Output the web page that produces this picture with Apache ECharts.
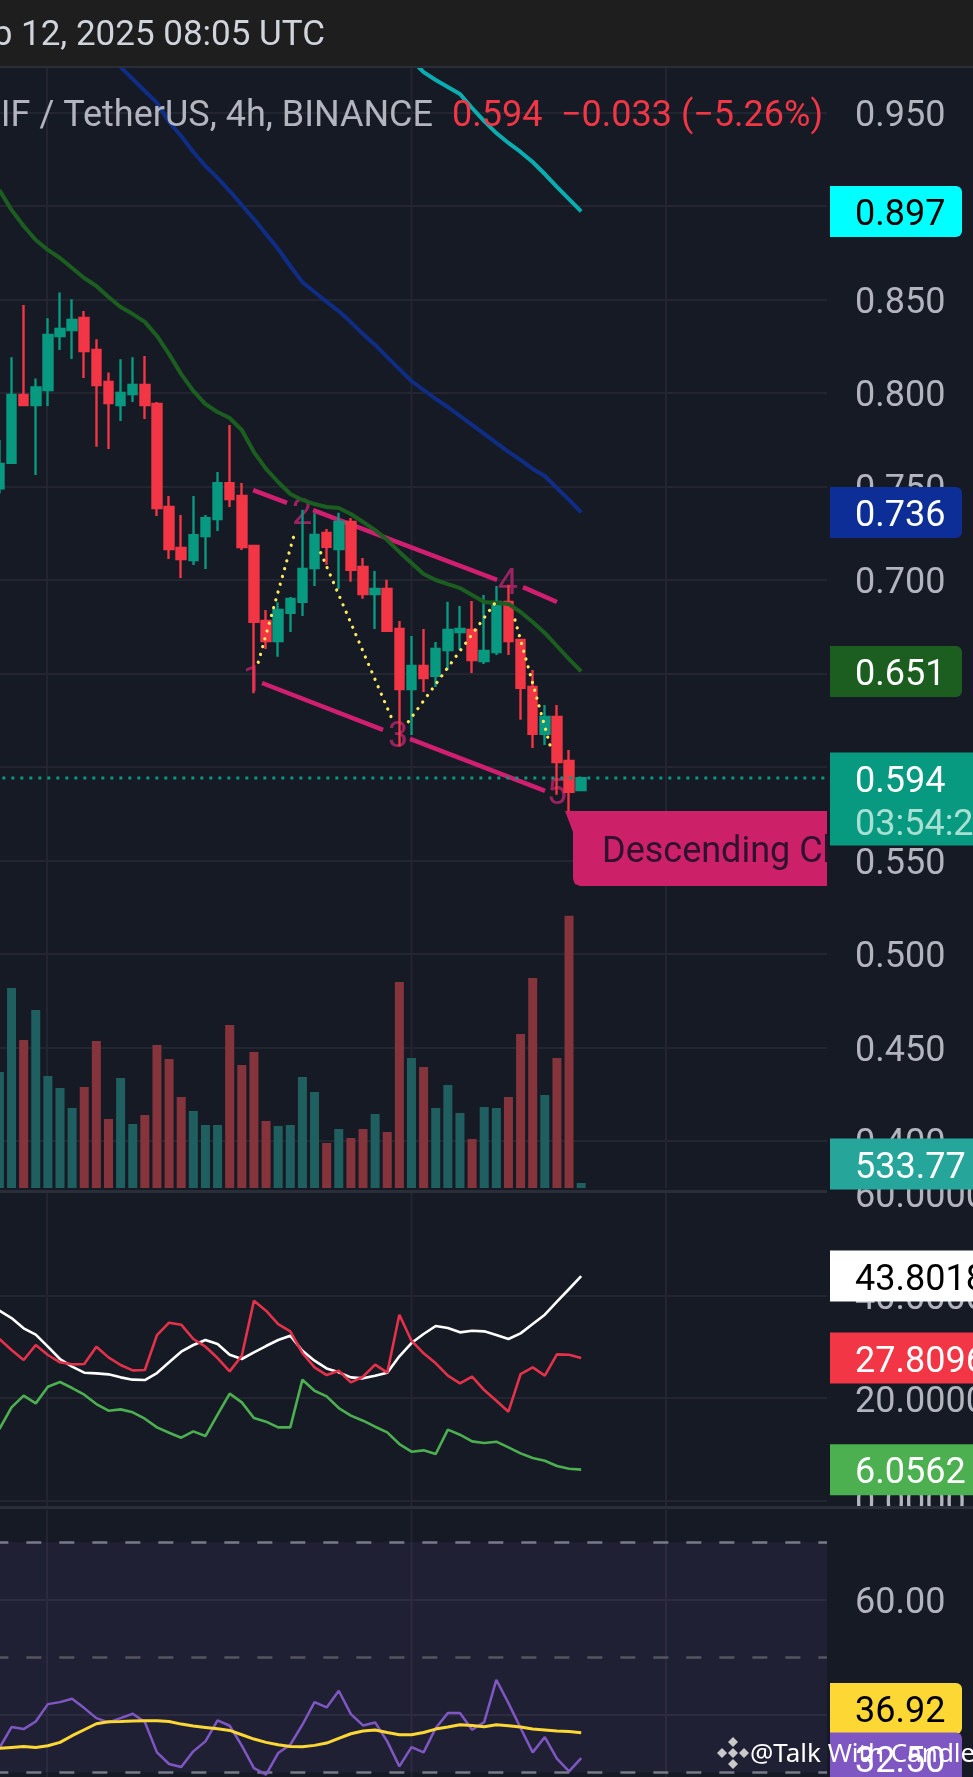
<!DOCTYPE html>
<html><head><meta charset="utf-8">
<style>html,body{margin:0;padding:0;background:#161a25;overflow:hidden}#c{width:973px;height:1777px}</style>
<script src="https://cdn.jsdelivr.net/npm/echarts@6/dist/echarts.min.js"></script>
</head><body><div id="c"></div>
<script>
// [open, close, low, high]
const candles = [
[.7489,.7619,.7462,.7747],[.7626,.7988,.7626,.8190],[.7988,.7935,.7929,.8469],[.7935,.8029,.7560,.8077],
[.8015,.8309,.7929,.8398],[.8304,.8341,.8229,.8537],[.8336,.8389,.8181,.8500],[.8400,.8223,.8079,.8437],
[.8229,.8042,.7712,.8286],[.8058,.7945,.7699,.8109],[.7935,.7999,.7849,.8179],[.7993,.8042,.7951,.8190],
[.8042,.7935,.7860,.8197],[.7940,.7384,.7341,.7951],[.7389,.7165,.7111,.7448],[.7170,.7111,.7009,.7346],
[.7106,.7239,.7079,.7448],[.7234,.7330,.7058,.7346],[.7325,.7517,.7261,.7576],[.7517,.7432,.7389,.7828],
[.7448,.7175,.7159,.7517],[.7181,.6775,.6393,.7181],[.6780,.6673,.6630,.6839],[.6673,.6839,.6588,.6880],
[.6823,.6898,.6721,.6908],[.6882,.7058,.6807,.7374],[.7063,.7240,.6967,.7356],[.7251,.7176,.7080,.7272],
[.7165,.7309,.6951,.7358],[.7309,.7053,.6989,.7331],[.7069,.6924,.6898,.7117],[.6924,.6951,.6737,.7047],
[.6951,.6727,.6721,.7000],[.6737,.6416,.6108,.6780],[.6416,.6539,.6170,.6700],[.6539,.6475,.6400,.6737],
[.6486,.6630,.6427,.6668],[.6625,.6732,.6518,.6882],[.6721,.6737,.6625,.6860],[.6732,.6571,.6502,.6887],
[.6566,.6620,.6550,.6919],[.6614,.6882,.6598,.6967],[.6882,.6673,.6598,.6973],[.6678,.6422,.6251,.6678],
[.6427,.6176,.6101,.6518],[.6176,.6267,.6117,.6331],[.6267,.6026,.5850,.6331],[.6031,.5866,.5760,.6090],
[.5876,.5939,.5876,.5944]];
const volumes = [12389,21360,15806,19010,11962,10680,8544,10787,15700,7369,11748,6835,7796,15272,13777,9719,8224,6728,6728,17408,13136,14525,7156,6622,6728,11855,10253,4806,6301,5340,6301,7903,5981,22001,13884,12923,8544,11000,8010,5233,8651,8544,9719,16447,22428,9932,13884,29050,533.77];
const maGreen = [.9084,.8978,.8892,.8817,.8764,.8721,.8667,.8614,.8571,.8512,.8459,.8421,.8379,.8304,.8207,.8100,.8010,.7940,.7897,.7865,.7801,.7683,.7593,.7523,.7459,.7427,.7405,.7389,.7384,.7352,.7309,.7266,.7213,.7149,.7090,.7031,.6999,.6977,.6956,.6919,.6881,.6876,.6871,.6828,.6774,.6716,.6646,.6576,.651];
const maNavy = [null,null,null,null,null,null,null,null,null,null,.9742,.9678,.9614,.9550,.9448,.9373,.9288,.9213,.9149,.9079,.9004,.8929,.8849,.8769,.8678,.8592,.8539,.8486,.8437,.8378,.8314,.8256,.8191,.8127,.8063,.8015,.7967,.7924,.7876,.7828,.7780,.7732,.7684,.7641,.7593,.7555,.7491,.7427,.736];
const maTeal = [null,null,null,null,null,null,null,null,null,null,null,null,null,null,null,null,null,null,null,null,null,null,null,null,null,null,null,null,null,null,null,null,null,null,.9780,.9715,.9673,.9635,.9598,.9523,.9453,.9389,.9336,.9288,.9234,.9170,.9101,.9036,.897];
const dmiWhite = [37.05,35.62,33.61,32.37,30.03,27.63,26.13,24.96,24.83,24.64,24.05,23.6,23.53,24.9,26.98,29.06,30.36,31.33,30.55,28.47,27.63,28.93,30.16,31.33,32.18,29.25,27.3,25.8,25.03,24.05,23.86,24.38,24.96,28.15,30.75,32.5,34.06,33.67,32.83,33.15,33.02,32.3,31.53,32.63,34.45,36.27,38.81,41.28,43.8018];
const dmiRed = [31.53,29.38,27.43,30.36,28.41,26.98,26.59,26.65,30.03,27.95,26.46,25.42,25.48,32.3,34.71,34.32,31.53,30.03,27.82,25.22,28.28,39.0,37.05,34.45,33.02,28.8,26.0,24.5,25.35,23.08,24.18,26.52,24.96,36.27,31.2,28.73,26.78,24.38,22.88,24.18,21.58,19.5,17.36,24.7,26.0,24.38,28.54,28.47,27.8096];
const dmiGreen = [13.98,18.2,20.48,18.98,22.23,23.14,21.97,20.67,18.85,17.55,17.81,17.23,15.99,14.3,13.26,12.29,13.52,12.61,16.77,20.87,19.18,16.12,15.41,14.3,14.3,23.6,21.45,20.35,18.07,16.58,15.6,14.43,13.33,11.05,9.56,9.82,9.1,13.85,12.87,11.57,11.25,11.51,10.4,9.23,8.32,7.8,6.76,6.24,6.0562];
const rsi = [34.24,37.89,37.54,38.87,41.88,42.23,42.81,41.19,39.45,38.7,39.45,40.21,38.76,33.49,31.47,30.94,33.67,35.4,39.05,38.12,34.65,30.77,29.62,33.38,34.82,38.3,42.23,41.3,44.2,40.15,38.18,38.7,35.4,31.06,34.42,33.49,37.72,40.32,40.32,37.43,38.76,46.11,42.06,37.72,33.49,36.15,32.39,30.19,32.5];
const rsiMa = [34.19,34.36,34.53,34.36,34.65,35.23,36.39,37.43,38.47,38.82,38.87,38.93,38.99,38.99,38.87,38.41,38.06,37.83,37.6,37.31,36.56,35.81,35.23,34.82,34.53,34.48,34.71,35.11,35.92,36.73,37.2,37.37,36.96,36.56,36.56,36.96,37.54,37.89,38.3,38.18,37.95,38.3,38.12,37.89,37.54,37.37,37.2,37.14,36.92];
// annotation drawing: [slot position, price]
const channelTop = [[20.93,.7480],[23.73,.7411],[null,null],[25.88,.7373],[41.06,.7000],[null,null],[43.2,.6961],[46.0,.6881]];
const channelBottom = [[21.67,.6448],[31.65,.6197],[null,null],[33.88,.6149],[45.02,.5871]];
const wave = [[21.36,.6559],[24.39,.7257],[null,null],[26.51,.7145],[32.37,.6259],[null,null],[33.74,.6241],[41.17,.6901],[null,null],[42.54,.6785],[45.57,.6083]];
const waveLabels = [['1',20.93,.6453],['2',24.97,.7347],['3',32.89,.6154],['4',41.96,.6972],['5',46.0,.5849]];
const lastPriceLine = [[-0.5,.594],[68.5,.594]];
const verticalSlots = [3.93,34,55];
const slots = Array.from({length:69},(_,i)=>String(i));

const UP='#089981',DOWN='#f23645',BG='#161a25',GRID='#232631',AXT='#b2b5be';
const F='Roboto, sans-serif';
const L=-6.66,W=836.3;
const G={left:L,width:W,outerBoundsMode:'none',containLabel:false};
const grids=[{...G,top:68,height:1072.8},{...G,top:68,height:1120},{...G,top:1193,height:307.7},{...G,top:1510,height:320}];
const xAxes=[];
grids.forEach((g,i)=>{
  xAxes.push({type:'category',gridIndex:i,data:slots,show:false,boundaryGap:true});
  xAxes.push({type:'value',gridIndex:i,min:-0.5,max:68.5,show:false,splitLine:{show:false}});
});
const lab=(dec)=>({margin:25.4,showMaxLabel:false,formatter:v=>'{t|'+v.toFixed(dec)+'}',
  rich:{t:{color:AXT,fontFamily:F,fontSize:36,padding:[9,0,0,0]}}});
const yAxes=[
 {type:'value',gridIndex:0,position:'right',min:.4,max:.97369,interval:.05,axisLine:{show:false},axisTick:{show:false},
  axisLabel:lab(3),splitLine:{lineStyle:{color:GRID,width:2},showMaxLine:false}},
 {type:'value',gridIndex:1,min:0,max:119560,show:false,splitLine:{show:false}},
 {type:'value',gridIndex:2,position:'right',min:0,max:60,interval:20,axisLine:{show:false},axisTick:{show:false},
  axisLabel:{...lab(4),showMaxLabel:true},splitLine:{lineStyle:{color:GRID,width:2},showMaxLine:false}},
 {type:'value',gridIndex:3,position:'right',min:20,max:75.625,interval:20,axisLine:{show:false},axisTick:{show:false},
  axisLabel:lab(2),splitLine:{lineStyle:{color:GRID,width:2},showMaxLine:false}}
];
const vert=(lo,hi)=>{const d=[];verticalSlots.forEach(k=>{d.push([k,lo],[k,hi],[k,null]);});return d;};
const helper=(xi,yi,lo,hi)=>({type:'line',xAxisIndex:xi,yAxisIndex:yi,data:vert(lo,hi),showSymbol:false,silent:true,clip:false,z:0,lineStyle:{color:GRID,width:2},connectNulls:false});
const line=(xi,yi,data,color,width,z)=>({type:'line',xAxisIndex:xi,yAxisIndex:yi,data,showSymbol:false,silent:true,z:z||4,lineStyle:{color,width},connectNulls:false});
const ov=(data,color,width,type,z)=>({type:'line',xAxisIndex:1,yAxisIndex:0,data,showSymbol:false,silent:true,z:z||(type?6:2),connectNulls:false,lineStyle:{color,width,type:type||'solid',cap:type?'round':'butt'}});

const rsiSeries=line(6,3,rsi,'#7e57c2',2.5,4);
rsiSeries.markArea={silent:true,z:1,itemStyle:{color:'rgba(126,87,194,0.1)'},data:[[{yAxis:70},{yAxis:30}]]};
rsiSeries.markLine={silent:true,z:2,symbol:'none',label:{show:false},data:[
 {yAxis:70,lineStyle:{color:'#787b86',type:[15,18],width:2.5}},
 {yAxis:50,lineStyle:{color:'#54555f',type:[15,18],width:2.5}},
 {yAxis:30,lineStyle:{color:'#787b86',type:[15,18],width:2.5}}]};

const lastLine=ov(lastPriceLine,UP,3,[3,6],6);
lastLine.lineStyle.cap='butt';

const option={animation:false,backgroundColor:BG,grid:grids,xAxis:xAxes,yAxis:yAxes,series:[
 helper(3,1,0,120500),helper(5,2,-1.2,60),helper(7,3,20,75.625),
 {type:'bar',xAxisIndex:2,yAxisIndex:1,barWidth:9,silent:true,z:1,
  data:volumes.map((v,i)=>({value:v,itemStyle:{color:candles[i][1]>=candles[i][0]?'#205f5f':'#85343c'}}))},
 ov(channelTop,'#d01f70',4.5),ov(channelBottom,'#d01f70',4.5),
 {type:'scatter',xAxisIndex:1,yAxisIndex:0,symbolSize:1,itemStyle:{color:'transparent'},silent:true,z:3,
  data:waveLabels.map(r=>[r[1],r[2]]),
  label:{show:true,position:'inside',formatter:p=>waveLabels[p.dataIndex][0],color:'#bd2470',fontFamily:F,fontSize:36}},
 line(0,0,maTeal,'#0aaeb0',4,4),line(0,0,maNavy,'#0f2d85',4,4),
 {type:'candlestick',xAxisIndex:0,yAxisIndex:0,barWidth:9,silent:true,z:5,data:candles,
  itemStyle:{color:UP,color0:DOWN,borderColor:UP,borderColor0:DOWN,borderWidth:2.4}},
 lastLine,
 line(0,0,maGreen,'#1b5e20',4,5.5),
 ov(wave,'#ffeb5c',3.2,[0.1,8]),
 line(4,2,dmiWhite,'#ffffff',2.6),line(4,2,dmiRed,'#e5324a',2.6),line(4,2,dmiGreen,'#4caf50',2.6),
 rsiSeries,line(6,3,rsiMa,'#fdd835',3,5)
]};
const chart=echarts.init(document.getElementById('c'),null,{renderer:'canvas',width:973,height:1777});
chart.setOption(option);

const py=(axis,v)=>chart.convertToPixel({yAxisIndex:axis},v);
const DY=4.5;
const tag=(cy,text,fill,color,full)=>[
 {type:'rect',z:20,shape:{x:830,y:cy-25.5,width:full?143:132,height:51,r:full?0:[0,6,6,0]},style:{fill}},
 {type:'text',z:21,style:{x:855,y:cy+DY,text,fill:color,font:'36px '+F,textAlign:'left',textVerticalAlign:'middle',verticalAlign:'middle'}}
];
const txt=(x,y,text,fill,size,align,family,z)=>({type:'text',z:z||30,style:{x,y,text,fill,font:(size||36)+'px '+(family||F),textAlign:align||'left',textVerticalAlign:'middle',verticalAlign:'middle'}});
const diamond=(cx,cy,r,fill)=>({type:'polygon',z:30,shape:{points:[[cx-r,cy],[cx,cy-r],[cx+r,cy],[cx,cy+r]]},style:{fill}});
const yLast=py(0,.594);
const g=[
 {type:'rect',z:6.5,shape:{x:827,y:68,width:3,height:1440},style:{fill:BG}},
 {type:'rect',z:6.5,shape:{x:827,y:1508,width:3,height:269},style:{fill:BG}},
 {type:'rect',z:1,shape:{x:830,y:1507,width:143,height:40},style:{fill:BG}},
 {type:'rect',z:8,shape:{x:0,y:1190,width:827,height:3},style:{fill:'#2a2e39'}},
 {type:'rect',z:8,shape:{x:0,y:1506,width:973,height:3},style:{fill:'#2a2e39'}},
 {type:'rect',z:15,shape:{x:0,y:0,width:973,height:66},style:{fill:'#1e1e1e'}},
 {type:'rect',z:15,shape:{x:0,y:66,width:973,height:2},style:{fill:'#2a2e39'}},
 txt(325,33+DY-1,'Feb 12, 2025 08:05 UTC','#d1d4dc',35,'right',null,16),
 txt(433,112+DY,'WIF / TetherUS, 4h, BINANCE',AXT,36,'right',null,16),
 txt(452,112+DY,'0.594',DOWN,36,'left',null,16),
 txt(561,112+DY,'\u22120.033 (\u22125.26%)',DOWN,36,'left',null,16),
 {type:'polygon',z:7,shape:{points:[[565,811],[827,811],[827,886],[580,886],[575,884],[573,879],[573,832]]},style:{fill:'#cc2068'}},
 {type:'text',z:7.5,style:{x:602,y:853,text:'Descending Channel',fill:'#2e1230',font:'36px '+F,textAlign:'left',textVerticalAlign:'middle',verticalAlign:'middle',width:250,overflow:'truncate',ellipsis:''}},
 {type:'rect',z:7.6,shape:{x:827,y:811,width:28,height:75},style:{fill:BG}},
 ...tag(py(0,.897),'0.897','#00ffff','#000000'),
 ...tag(py(0,.736),'0.736','#0c2e96','#ffffff'),
 ...tag(py(0,.651),'0.651','#1b5e20','#ffffff'),
 {type:'rect',z:20,shape:{x:830,y:yLast-25.5,width:143,height:93},style:{fill:UP}},
 txt(855,yLast+DY,'0.594','#ffffff',36,'left',null,21),
 txt(855,yLast+44+DY-1,'03:54:2','#a8e0d3',36,'left',null,21),
 ...tag(1164,'533.77','#26a69a','#ffffff',true),
 ...tag(py(2,43.8018),'43.8018','#ffffff','#000000',true),
 ...tag(py(2,27.8096),'27.8096','#f23645','#ffffff',true),
 ...tag(py(2,6.0562),'6.0562','#4caf50','#ffffff',true),
 ...tag(1708.5,'36.92','#fdd835','#000000'),
 ...tag(py(3,32.5),'32.50','#7e57c2','#ffffff'),
 diamond(733,1753,5,'#c9c9c9'),diamond(733,1742,5,'#c9c9c9'),diamond(733,1764,5,'#c9c9c9'),diamond(722,1753,5,'#c9c9c9'),diamond(744,1753,5,'#c9c9c9'),
 txt(750,1755,'@Talk With Candle','#ffffff',26,'left','"Noto Sans", sans-serif',30)
];
chart.setOption({graphic:{elements:g}});
</script></body></html>
